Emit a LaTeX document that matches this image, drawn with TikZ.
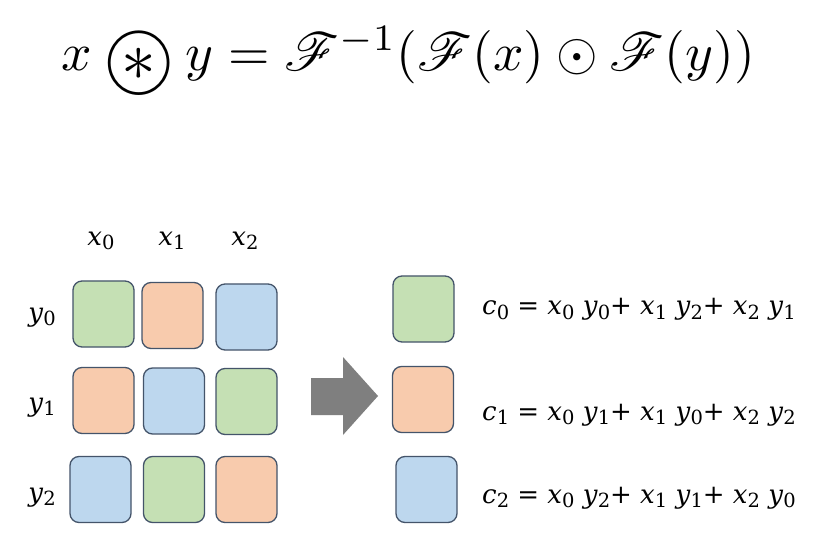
\documentclass[tikz,border=0pt]{standalone}
\usepackage{amsmath,amssymb}
\usepackage{mathrsfs}
\usepackage{fontspec}
\newfontfamily\lblfont{DejaVu Serif}
\definecolor{cgreen}{HTML}{C5E0B4}
\definecolor{corange}{HTML}{F8CBAD}
\definecolor{cblue}{HTML}{BDD7EE}
\definecolor{cedge}{HTML}{44546A}
\definecolor{carrow}{HTML}{7F7F7F}
\newcommand\vv[2]{\textit{#1}\raisebox{-0.3ex}{\scalebox{0.75}{#2}}}
\newcommand\bigoast{\mathbin{\vcenter{\hbox{\scalebox{1.3}{\ooalign{$\bigcirc$\cr\hfil$\ast$\hfil\cr}}}}}}
\begin{document}
\begin{tikzpicture}[x=1pt,y=-1pt,
  cell/.style={draw=cedge,line width=1.3pt,rounded corners=9pt,minimum width=61pt,minimum height=66pt,inner sep=0pt},
  lbl/.style={font=\lblfont\fontsize{26}{30}\selectfont,inner sep=0pt},
  eqn/.style={font=\lblfont\fontsize{26}{30}\selectfont,inner sep=0pt,anchor=base west}]
\useasboundingbox (0,0) rectangle (830,553);
\fill[white] (0,0) rectangle (830,553);
\node[inner sep=0pt] (formula) at (408.5,55)
  {\resizebox{693pt}{!}{$x \bigoast y = \mathscr{F}^{-1}(\mathscr{F}(x) \odot \mathscr{F}(y))$}};
% grid
\node[cell,fill=cgreen]  (a00) at (103.5,314) {};
\node[cell,fill=corange] (a01) at (172.5,315.5) {};
\node[cell,fill=cblue]   (a02) at (246.5,317) {};
\node[cell,fill=corange] (a10) at (103.5,400.5) {};
\node[cell,fill=cblue]   (a11) at (174,401) {};
\node[cell,fill=cgreen]  (a12) at (246.5,401.5) {};
\node[cell,fill=cblue]   (a20) at (100.5,489.5) {};
\node[cell,fill=cgreen]  (a21) at (174,489.5) {};
\node[cell,fill=corange] (a22) at (246.5,489.5) {};
% labels
\node[lbl] (x0) at (101,241) {\vv{x}{0}};
\node[lbl] (x1) at (172,241) {\vv{x}{1}};
\node[lbl] (x2) at (245,241) {\vv{x}{2}};
\node[lbl] (y0) at (42,318) {\vv{y}{0}};
\node[lbl] (y1) at (42,408) {\vv{y}{1}};
\node[lbl] (y2) at (42,498) {\vv{y}{2}};
% arrow
\fill[carrow] (311,378) -- (343,378) -- (343,357) -- (378,396) -- (343,435) -- (343,415) -- (311,415) -- cycle;
% result cells
\node[cell,fill=cgreen]  (c0box) at (423.5,309) {};
\node[cell,fill=corange] (c1box) at (423,399.5) {};
\node[cell,fill=cblue]   (c2box) at (426.5,489.5) {};
% equations
\node[eqn] (e0) at (482,315) {\vv{c}{0} = \vv{x}{0} \vv{y}{0}+ \vv{x}{1} \vv{y}{2}+ \vv{x}{2} \vv{y}{1}};
\node[eqn] (e1) at (482,420) {\vv{c}{1} = \vv{x}{0} \vv{y}{1}+ \vv{x}{1} \vv{y}{0}+ \vv{x}{2} \vv{y}{2}};
\node[eqn] (e2) at (482,503) {\vv{c}{2} = \vv{x}{0} \vv{y}{2}+ \vv{x}{1} \vv{y}{1}+ \vv{x}{2} \vv{y}{0}};
\end{tikzpicture}
\end{document}
